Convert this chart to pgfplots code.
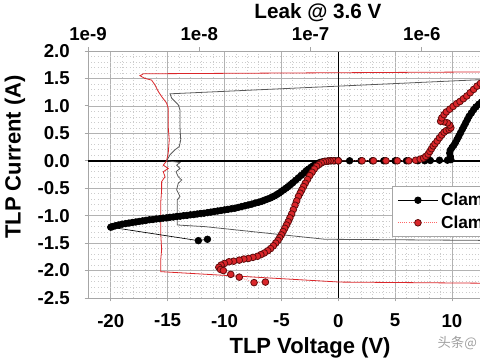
\documentclass[border=0pt]{standalone}
\usepackage{pgfplots}
\pgfplotsset{compat=1.18}
\usepackage{fontspec}
\setmainfont{Liberation Sans}
\newfontfamily\cjk{Noto Sans CJK SC}
\definecolor{redfill}{RGB}{218,38,42}
\definecolor{rededge}{RGB}{95,12,12}
\begin{document}
\begin{tikzpicture}
\useasboundingbox (-66pt,-46.5pt) rectangle (294pt,223.5pt);
\clip (-66pt,-46.5pt) rectangle (294pt,223.5pt);
\pgfplotsset{
  base/.style={scale only axis, width=341.25pt, height=185.25pt, at={(0pt,0pt)}, anchor=south west,
    ymin=-2.5, ymax=2},
  tickfont/.style={font=\fontsize{14}{14}\selectfont\bfseries},
}
% ---------- axis A: grid, bottom/left ticks, labels ----------
\begin{axis}[base, xmin=-22, xmax=18,
  xtick={-20,-15,-10,-5,0,5,10}, ytick={-2.5,-2,-1.5,-1,-0.5,0,0.5,1,1.5,2},
  extra x ticks={15}, extra x tick labels={}, extra x tick style={grid=major},
  minor x tick num=4, minor y tick num=4,
  grid=both,
  major grid style={gray!60, line width=0.5pt},
  minor grid style={gray!40, dotted, line width=0.5pt},
  minor tick length=0pt, major tick length=2.5pt, tick align=outside,
  xtick pos=lower, ytick pos=left,
  axis line style={gray!70, line width=0.7pt}, tick style={gray!70, line width=0.6pt},
  /pgf/number format/assume math mode=true,
  xticklabel style={tickfont, anchor=center, yshift=-14.5pt},
  yticklabel style={tickfont, anchor=east, inner sep=0pt, xshift=-11pt,
     /pgf/number format/.cd, fixed, fixed zerofill, precision=1},
  xlabel={TLP Voltage (V)},
  xlabel style={font=\fontsize{16.5}{16.5}\selectfont\bfseries, at={(axis description cs:0.488,-0.2025)}, anchor=center},
  ylabel={TLP Current (A)},
  ylabel style={font=\fontsize{16.5}{16.5}\selectfont\bfseries, at={(axis description cs:-0.1604,0.5709)}, anchor=center},
]
\draw[black, line width=1.1pt] (axis cs:0,-2.5) -- (axis cs:0,2);
\draw[black, line width=1.1pt] (axis cs:-22,0) -- (axis cs:18,0);
\end{axis}
% ---------- axis B: top log axis with leakage curves ----------
\begin{axis}[base, xmode=log, xmin=1e-9, xmax=1.2245e-5,
  axis x line*=top, axis y line=none,
  xtick={1e-9,1e-8,1e-7,1e-6}, xticklabels={1e-9,1e-8,1e-7,1e-6},
  xminorticks=false, tick align=outside, major tick length=3pt,
  axis line style={gray!70, line width=0.7pt}, tick style={gray!70, line width=0.6pt},
  xticklabel style={tickfont, anchor=center, yshift=9.5pt},
]
\addplot[black!65, line width=0.6pt] coordinates {
(5.09e-9,0.0)(5.46e-9,0.11)(6.05e-9,0.2)(6.61e-9,0.26)(6.81e-9,0.38)(6.71e-9,0.62)(6.71e-9,0.93)
(6.47e-9,1.02)(6.05e-9,1.08)(5.65e-9,1.14)(5.46e-9,1.22)(3.16e-4,1.66)};
\addplot[black!65, line width=0.6pt] coordinates {
(5.09e-9,0.0)(6.71e-9,-0.03)(6.26e-9,-0.08)(6.71e-9,-0.14)(6.18e-9,-0.2)(6.47e-9,-0.29)(6.95e-9,-0.35)
(6.47e-9,-0.41)(6.26e-9,-0.53)(6.71e-9,-0.65)(6.34e-9,-0.71)(6.34e-9,-1.17)(1.125e-8,-1.2)
(1.346e-7,-1.43)(3.33e-6,-1.45)(3.16e-4,-1.47)};
\addplot[redfill, line width=0.6pt] coordinates {
(5.09e-9,0.01)(5.26e-9,0.14)(5.37e-9,0.38)(5.26e-9,0.62)(5.26e-9,0.96)(5.09e-9,1.05)(4.59e-9,1.17)
(4.29e-9,1.26)(4.0e-9,1.38)(3.73e-9,1.47)(3.25e-9,1.5)(2.93e-9,1.55)(3.15e-9,1.585)(3.16e-4,1.64)};
\addplot[redfill, line width=0.6pt] coordinates {
(5.09e-9,0.0)(4.75e-9,-0.08)(5.26e-9,-0.14)(4.75e-9,-0.2)(4.92e-9,-0.29)(4.59e-9,-0.38)(4.59e-9,-0.53)
(4.50e-9,-0.77)(4.50e-9,-1.32)(4.59e-9,-1.62)(4.50e-9,-1.81)(4.50e-9,-2.02)(1.84e-7,-2.21)
(3.33e-6,-2.23)(3.16e-4,-2.26)};
\end{axis}
% ---------- axis C: clamp I-V data and legend ----------
\begin{axis}[base, xmin=-22, xmax=18, hide axis,
  legend style={at={(axis description cs:0.668,0.4534)}, anchor=north west, draw=gray!70, fill=white,
     font=\fontsize{13}{13}\selectfont\bfseries, inner xsep=4pt, inner ysep=3pt, row sep=2pt},
  legend cell align=left,
  legend image code/.code={\draw[mark repeat=2,mark phase=2,#1] plot coordinates {(0pt,0pt)(15pt,0pt)(30pt,0pt)};},
]
\addplot[black, line width=0.5pt, mark=*, mark size=2.5pt, mark options={solid, fill=black, draw=black}] coordinates {
(0,0)(-0.3,0)(-0.6,0)(-0.9,-0.005)(-1.2,-0.01)(-1.4,-0.02)(-1.6,-0.03)(-1.8,-0.05)(-2.0,-0.07)(-2.2,-0.09)
(-2.4,-0.12)(-2.6,-0.15)(-2.8,-0.18)(-3.0,-0.22)(-3.25,-0.265)(-3.5,-0.31)(-3.75,-0.355)(-4.0,-0.40)
(-4.2,-0.435)(-4.4,-0.47)(-4.6,-0.50)(-4.8,-0.53)(-5.0,-0.56)(-5.2,-0.59)(-5.4,-0.615)(-5.6,-0.64)
(-5.8,-0.66)(-6.0,-0.68)(-6.25,-0.70)(-6.5,-0.72)(-6.75,-0.74)(-7.0,-0.755)(-7.3,-0.77)(-7.6,-0.79)
(-7.9,-0.805)(-8.2,-0.82)(-8.5,-0.835)(-8.8,-0.85)(-9.1,-0.865)(-9.4,-0.875)(-9.7,-0.885)(-10.0,-0.895)
(-10.3,-0.905)(-10.6,-0.915)(-10.9,-0.925)(-11.2,-0.935)(-11.5,-0.945)(-11.8,-0.955)(-12.1,-0.96)
(-12.4,-0.97)(-12.7,-0.98)(-13.0,-0.985)(-13.3,-0.995)(-13.6,-1.0)(-13.9,-1.01)(-14.2,-1.015)
(-14.5,-1.025)(-14.8,-1.03)(-15.1,-1.04)(-15.4,-1.045)(-15.7,-1.055)(-16.0,-1.06)(-16.3,-1.07)
(-16.6,-1.075)(-16.9,-1.085)(-17.2,-1.095)(-17.5,-1.105)(-17.8,-1.115)(-18.1,-1.125)(-18.4,-1.135)
(-18.7,-1.145)(-19.0,-1.155)(-19.3,-1.17)(-19.6,-1.185)(-19.85,-1.2)(-20.0,-1.21)
(-12.3,-1.455)(-11.5,-1.43)};
\addlegendentry{Clamp 1}
\addplot[red!60, densely dotted, line width=0.6pt, mark=*, mark size=2.5pt, mark options={solid, fill=redfill, draw=rededge}] coordinates {
(0,0)(-0.4,0)(-0.7,0)(-0.9,-0.005)(-1.1,-0.01)(-1.3,-0.02)(-1.5,-0.04)(-1.7,-0.07)(-1.9,-0.1)
(-2.1,-0.15)(-2.3,-0.21)(-2.5,-0.27)(-2.7,-0.34)(-2.9,-0.41)(-3.05,-0.47)(-3.2,-0.53)(-3.35,-0.59)
(-3.5,-0.65)(-3.65,-0.73)(-3.8,-0.81)(-3.95,-0.89)(-4.1,-0.97)(-4.25,-1.04)(-4.4,-1.11)(-4.55,-1.17)
(-4.7,-1.23)(-4.85,-1.29)(-5.0,-1.35)(-5.15,-1.4)(-5.3,-1.45)(-5.5,-1.5)(-5.7,-1.55)(-5.95,-1.6)
(-6.2,-1.64)(-6.5,-1.68)(-6.8,-1.71)(-7.1,-1.74)(-7.5,-1.76)(-7.9,-1.78)(-8.3,-1.79)(-8.7,-1.81)
(-9.2,-1.83)(-9.6,-1.84)(-10.0,-1.87)(-10.3,-1.9)(-10.5,-1.94)(-10.35,-1.98)(-10.1,-2.0)
(-9.45,-2.07)(-8.7,-2.12)(-7.4,-2.22)(-6.4,-2.21)};
\addlegendentry{Clamp 2}
\addplot[black, line width=0.5pt, mark=*, mark size=2.5pt, mark options={solid, fill=black, draw=black}, forget plot] coordinates {
(0,0)(1,0)(2,0)(3,0)(4,0)(5,0)(6,0)(7,0)(7.6,0)(8.1,0.005)(8.9,0.01)(9.6,0.01)(9.9,0.02)(9.85,0.08)
(9.8,0.14)(9.85,0.19)(10.0,0.24)(10.15,0.28)(10.3,0.33)(10.45,0.39)(10.6,0.45)(10.75,0.51)(10.9,0.57)
(11.05,0.63)(11.2,0.69)(11.35,0.75)(11.5,0.81)(11.7,0.87)(11.9,0.93)(12.1,0.98)(12.35,1.03)
(12.6,1.07)(12.9,1.12)(13.2,1.16)(13.5,1.20)};
\addplot[red!60, densely dotted, line width=0.6pt, mark=*, mark size=2.5pt, mark options={solid, fill=redfill, draw=rededge}, forget plot] coordinates {
(0,0)(2.1,0)(3.1,0)(4.2,0)(5.2,0)(6.2,0)(6.8,0.01)(7.2,0.03)(7.5,0.05)(7.7,0.08)(7.9,0.12)(8.05,0.17)
(8.2,0.22)(8.35,0.27)(8.5,0.31)(8.7,0.36)(8.9,0.42)(9.1,0.47)(9.3,0.52)(9.5,0.55)(9.75,0.57)(9.9,0.6)
(9.8,0.65)(9.6,0.69)(9.3,0.71)(9.0,0.72)(9.1,0.78)(9.3,0.84)(9.5,0.89)(9.8,0.94)(10.1,0.99)(10.4,1.04)
(10.7,1.08)(11.0,1.13)(11.3,1.18)(11.6,1.24)(11.9,1.3)(12.2,1.36)(12.5,1.41)(12.8,1.46)(13.1,1.5)};
\end{axis}
\node[font=\fontsize{15.5}{15.5}\selectfont\bfseries, anchor=center] at (172.5pt,213.75pt) {Leak @ 3.6 V};
\node[anchor=west, font=\cjk\fontsize{10}{10}\selectfont, text=gray!75, inner sep=0pt] at (262pt,-33.75pt) {头条@};
\end{tikzpicture}
\end{document}
